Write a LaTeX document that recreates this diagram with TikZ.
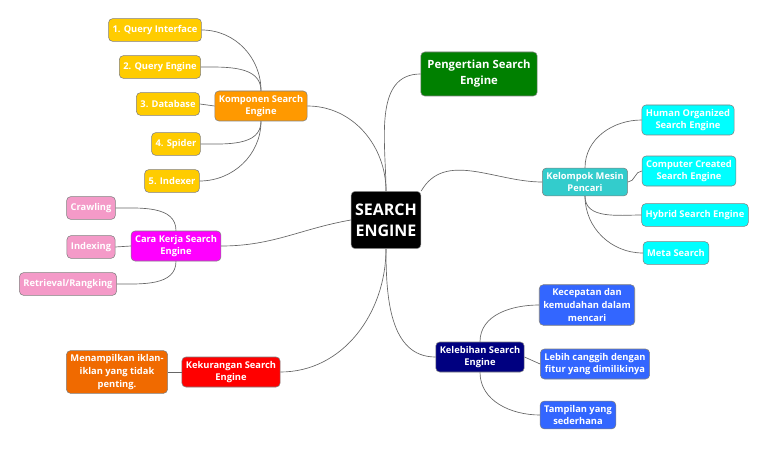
\documentclass[tikz,border=0pt]{standalone}
\usepackage{fontspec}
\setmainfont{Open Sans}
\definecolor{cYellow}{HTML}{FFCC00}
\definecolor{cOrange}{HTML}{FF9900}
\definecolor{cPink}{HTML}{F49AC8}
\definecolor{cMag}{HTML}{FF00FF}
\definecolor{cRed}{HTML}{FF0000}
\definecolor{cOrg}{HTML}{F06A00}
\definecolor{cGreen}{HTML}{008000}
\definecolor{cTeal}{HTML}{33CCCC}
\definecolor{cCyan}{HTML}{00FFFF}
\definecolor{cNavy}{HTML}{000080}
\definecolor{cBlue}{HTML}{3366FF}
\begin{document}
\begin{tikzpicture}[x=0.75pt,y=-0.75pt]
        \tikzstyle{block} = [rectangle, rounded corners=3pt, text=white, align=center, draw=black!50, font=\bfseries\fontsize{7}{9.5}\selectfont, inner sep=3pt, minimum height=17pt]
        \tikzstyle{line} = [draw=black!60, line width=.5]
        \useasboundingbox (0,0) rectangle (768,453);
        \node[block,fill=black,draw=black!40,font=\bfseries\fontsize{12}{16}\selectfont,minimum height=43pt] (root) at (386,220) {SEARCH\\ENGINE};
        % kiri
        \node[block,fill=cOrange] (komp) at (261,106) {Komponen Search\\Engine};
        \node[block,fill=cYellow] (qi) at (155,30) {1. Query Interface};
        \node[block,fill=cYellow] (qe) at (160,67) {2. Query Engine};
        \node[block,fill=cYellow] (db) at (168,104) {3. Database};
        \node[block,fill=cYellow] (sp) at (176,144) {4. Spider};
        \node[block,fill=cYellow] (ix) at (172,181) {5. Indexer};
        \node[block,fill=cMag] (cara) at (176,246) {Cara Kerja Search\\Engine};
        \node[block,fill=cPink] (crawl) at (91,208) {Crawling};
        \node[block,fill=cPink] (index) at (91,247) {Indexing};
        \node[block,fill=cPink] (retr) at (68,284) {Retrieval/Rangking};
        \node[block,fill=cRed] (kurang) at (231,372) {Kekurangan Search\\Engine};
        \node[block,fill=cOrg] (iklan) at (117,372) {Menampilkan iklan-\\iklan yang tidak\\penting.};
        % kanan
        \node[block,fill=cGreen,minimum height=33pt,inner sep=5pt,font=\bfseries\fontsize{8.5}{12}\selectfont] (pengertian) at (479,74) {Pengertian Search\\Engine};
        \node[block,fill=cTeal] (kelompok) at (585,182) {Kelompok Mesin\\Pencari};
        \node[block,fill=cCyan] (human) at (688,120) {Human Organized\\Search Engine};
        \node[block,fill=cCyan] (comp) at (689,171) {Computer Created\\Search Engine};
        \node[block,fill=cCyan] (hybrid) at (695,215) {Hybrid Search Engine};
        \node[block,fill=cCyan] (meta) at (676,253) {Meta Search};
        \node[block,fill=cNavy] (lebih) at (480,357) {Kelebihan Search\\Engine};
        \node[block,fill=cBlue] (cepat) at (587,305) {Kecepatan dan\\kemudahan dalam\\mencari};
        \node[block,fill=cBlue] (canggih) at (595,364) {Lebih canggih dengan\\fitur yang dimilikinya};
        \node[block,fill=cBlue] (tampil) at (578,415) {Tampilan yang\\sederhana};
        % cabang utama
        \draw[line] (root.north) to[out=90,in=180] (pengertian.west);
        \draw[line] (root.north) to[out=90,in=0] (komp.east);
        \draw[line] (root.north east) to[out=60,in=180] (kelompok.west);
        \draw[line] (root.west) to[out=190,in=0] (cara.east);
        \draw[line] (root.south) to[out=270,in=0] (kurang.east);
        \draw[line] (root.south) to[out=270,in=180] (lebih.west);
        % anak
        \draw[line] (komp.north) to[out=90,in=0] (qi.east);
        \draw[line] (komp.north) to[out=90,in=0] (qe.east);
        \draw[line] (komp.west) to (db.east);
        \draw[line] (komp.south) to[out=270,in=0] (sp.east);
        \draw[line] (komp.south) to[out=270,in=0] (ix.east);
        \draw[line] (cara.north) to[out=90,in=0] (crawl.east);
        \draw[line] (cara.west) to (index.east);
        \draw[line] (cara.south) to[out=270,in=0] (retr.east);
        \draw[line] (kurang.west) to (iklan.east);
        \draw[line] (kelompok.north) to[out=90,in=180] (human.west);
        \draw[line] (kelompok.east) to[out=0,in=180] (comp.west);
        \draw[line] (kelompok.south) to[out=270,in=180] (hybrid.west);
        \draw[line] (kelompok.south) to[out=270,in=180] (meta.west);
        \draw[line] (lebih.north) to[out=90,in=180] (cepat.west);
        \draw[line] (lebih.east) to (canggih.west);
        \draw[line] (lebih.south) to[out=270,in=180] (tampil.west);
\end{tikzpicture}
\end{document}
